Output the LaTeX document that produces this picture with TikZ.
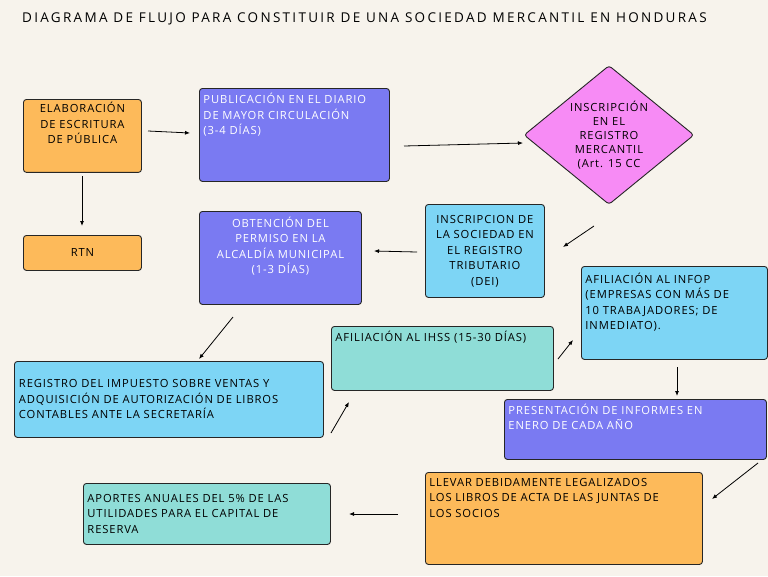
\documentclass[tikz,border=0pt]{standalone}
\usepackage{fontspec}
\setmainfont{Open Sans}
\usetikzlibrary{shapes.geometric,arrows.meta}
\definecolor{bg}{HTML}{F7F3EC}
\definecolor{org}{HTML}{FDBA5A}
\definecolor{pur}{HTML}{7A7AF2}
\definecolor{pnk}{HTML}{F78BF5}
\definecolor{lbl}{HTML}{7DD5F5}
\definecolor{tea}{HTML}{8FDDD7}
\newcommand{\jl}[2]{\makebox[#1][s]{#2}}
\begin{document}
\begin{tikzpicture}[x=1pt,y=-1pt,
 box/.style={draw=black!85,line width=0.9pt,rounded corners=3pt,inner sep=3pt,font=\fontsize{11.2}{15.5}\selectfont\addfontfeature{LetterSpace=8}},
 arr/.style={-{Latex[length=5pt,width=4pt]},line width=0.8pt}]
\useasboundingbox[fill=bg] (0,0) rectangle (768,576);
\node[font=\fontsize{13.5}{15}\selectfont,anchor=west,inner sep=0pt] (title) at (22,19) {\addfontfeature{LetterSpace=17}DIAGRAMA DE FLUJO PARA CONSTITUIR DE UNA SOCIEDAD MERCANTIL EN HONDURAS};
\node[box,fill=org,minimum width=118pt,minimum height=69pt,align=center,anchor=north west] (a) at (23,99) {ELABORACIÓN\\DE ESCRITURA\\DE PÚBLICA\\[10pt]\mbox{}};
\node[box,fill=pur,text=white,minimum width=190pt,minimum height=93pt,anchor=north west,text width=182pt,align=left] (b) at (199,88) {PUBLICACIÓN EN EL DIARIO\\DE MAYOR CIRCULACIÓN\\(3-4 DÍAS)\\[26pt]\mbox{}};
\node[box,diamond,fill=pnk,minimum width=170pt,minimum height=139pt,align=center,inner sep=0pt,aspect=1.22,font=\fontsize{11.2}{14}\selectfont\addfontfeature{LetterSpace=8}] (c) at (609,135) {INSCRIPCIÓN\\EN EL\\REGISTRO\\MERCANTIL\\(Art. 15 CC};
\node[box,fill=org,minimum width=118pt,minimum height=35pt,anchor=north west] (d) at (23,235) {RTN};
\node[box,fill=pur,text=white,minimum width=162pt,minimum height=93pt,anchor=north west,text width=154pt,align=center] (e) at (199,211) {OBTENCIÓN DEL\\PERMISO EN LA\\ALCALDÍA MUNICIPAL\\(1-3 DÍAS)\\[10pt]\mbox{}};
\node[box,fill=lbl,minimum width=119pt,minimum height=93pt,anchor=north west,align=center] (f) at (425,204) {INSCRIPCION DE\\LA SOCIEDAD EN\\EL REGISTRO\\TRIBUTARIO\\(DEI)};
\node[box,fill=lbl,minimum width=186pt,minimum height=93pt,anchor=north west,text width=178pt,align=left] (g) at (581,266) {\jl{178pt}{AFILIACIÓN AL INFOP}\\\jl{178pt}{(EMPRESAS CON MÁS DE}\\10 TRABAJADORES; DE\\INMEDIATO).\\[8pt]\mbox{}};
\node[box,fill=lbl,minimum width=309pt,minimum height=76pt,anchor=north west,text width=300pt,align=left] (h) at (14,361) {REGISTRO DEL IMPUESTO SOBRE VENTAS Y\\ADQUISICIÓN DE AUTORIZACIÓN DE LIBROS\\CONTABLES ANTE LA SECRETARÍA};
\node[box,fill=tea,minimum width=222pt,minimum height=64pt,anchor=north west,text width=214pt,align=left] (i) at (331,326) {AFILIACIÓN AL IHSS (15-30 DÍAS)\\[28pt]\mbox{}};
\node[box,fill=pur,text=white,minimum width=262pt,minimum height=60pt,anchor=north west,text width=254pt,align=left] (j) at (504,399) {PRESENTACIÓN DE INFORMES EN\\ENERO DE CADA AÑO\\[10pt]\mbox{}};
\node[box,fill=org,minimum width=277pt,minimum height=92pt,anchor=north west,text width=269pt,align=left] (k) at (425,472) {LLEVAR DEBIDAMENTE LEGALIZADOS\\LOS LIBROS DE ACTA DE LAS JUNTAS DE\\LOS SOCIOS\\[26pt]\mbox{}};
\node[box,fill=tea,minimum width=247pt,minimum height=61pt,anchor=north west,text width=239pt,align=left] (l) at (83,483) {\jl{239pt}{APORTES ANUALES DEL 5\% DE LAS}\\\jl{239pt}{UTILIDADES PARA EL CAPITAL DE}\\RESERVA};
\coordinate (p1) at (148,131); \coordinate (q1) at (190,133);
\coordinate (p2) at (82,176); \coordinate (q2) at (82,226);
\coordinate (p3) at (404,146); \coordinate (q3) at (523,143);
\coordinate (p4) at (594,226); \coordinate (q4) at (563,247);
\coordinate (p5) at (417,252); \coordinate (q5) at (374,251);
\coordinate (p6) at (233,317); \coordinate (q6) at (199,359);
\coordinate (p7) at (331,433); \coordinate (q7) at (349,402);
\coordinate (p8) at (558,359); \coordinate (q8) at (573,340);
\coordinate (p9) at (677,367); \coordinate (q9) at (677,396);
\coordinate (p10) at (758,463); \coordinate (q10) at (712,499);
\coordinate (p11) at (398,514); \coordinate (q11) at (349,514);
\foreach \n in {1,...,11} \draw[arr] (p\n) -- (q\n);
\end{tikzpicture}
\end{document}
